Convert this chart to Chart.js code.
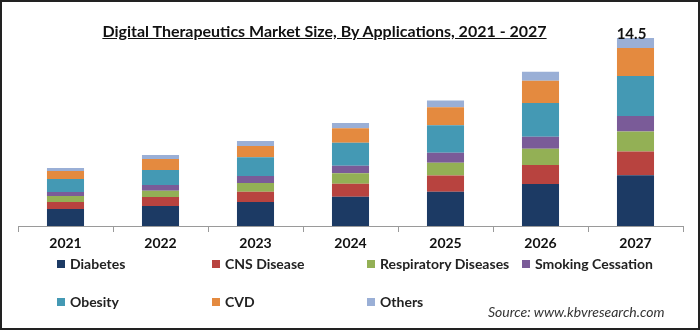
<!DOCTYPE html>
<html lang="en">
<head>
    <meta charset="UTF-8">
    <script src="https://cdn.jsdelivr.net/npm/chart.js"></script>
    <title>Digital Therapeutics Market Size</title>
    <style>
        body { margin: 0; background: #fff; font-family: Lato, "Liberation Sans", sans-serif; }
        .frame { position: absolute; left: 0; top: 0; width: 700px; height: 330px; box-sizing: border-box; border: 2px solid #222; pointer-events: none; }
        .chart { position: absolute; left: 0; top: 0; width: 700px; height: 330px; }
        .titulo { position: absolute; left: 0; width: 649px; top: 21px; text-align: center; font-weight: bold; font-size: 16px; color: #111; }
        .titulo span { text-decoration: underline; }
        .leg { position: absolute; font-size: 14px; font-weight: bold; color: #222; white-space: nowrap; line-height: 16px; }
        .leg i { display: inline-block; width: 8px; height: 8px; margin-right: 5px; vertical-align: 1px; }
        .fonte { position: absolute; left: 488px; top: 303px; font-size: 14px; font-style: italic; color: #333; }
    </style>
</head>
<body>
    <div class="chart"><canvas id="myChart" width="700" height="330"></canvas></div>
    <div class="titulo"><span>Digital Therapeutics Market Size, By Applications, 2021 - 2027</span></div>
    <div id="legenda"></div>
    <div class="fonte">Source: www.kbvresearch.com</div>
    <div class="frame"></div>
<script>
    // dados (USD bilhoes)
    const anos = ['2021', '2022', '2023', '2024', '2025', '2026', '2027'];
    const diabetes = [1.31, 1.54, 1.85, 2.26, 2.64, 3.24, 3.92];
    const cns = [0.54, 0.69, 0.80, 1.00, 1.26, 1.46, 1.82];
    const respiratorias = [0.46, 0.49, 0.67, 0.80, 0.97, 1.26, 1.54];
    const tabagismo = [0.31, 0.44, 0.54, 0.59, 0.77, 0.93, 1.21];
    const obesidade = [1.00, 1.16, 1.44, 1.77, 2.13, 2.60, 3.08];
    const cvd = [0.62, 0.85, 0.87, 1.11, 1.39, 1.72, 2.16];
    const outros = [0.23, 0.31, 0.39, 0.41, 0.51, 0.69, 0.77];
    const rotuloTotal = '14.5';

    const nomes = ['Diabetes', 'CNS Disease', 'Respiratory Diseases', 'Smoking Cessation', 'Obesity', 'CVD', 'Others'];
    const series = [diabetes, cns, respiratorias, tabagismo, obesidade, cvd, outros];
    const cores = ['#1c3a64', '#b8433f', '#93b055', '#7a5b98', '#4499b4', '#e48a3f', '#9aafd6'];

    // legenda em duas linhas, quatro colunas
    const colX = [57, 212, 367, 522];
    const linhaY = [264, 302];
    let html = '';
    for (let i = 0; i < nomes.length; i++) {
        const x = colX[i % 4], y = linhaY[Math.floor(i / 4)] - 8;
        html += `<div class="leg" style="left:${x}px;top:${y}px"><i style="background:${cores[i]}"></i>${nomes[i]}</div>`;
    }
    document.getElementById('legenda').innerHTML = html;

    // rotulo do total acima da ultima barra
    const rotuloPlugin = {
        id: 'rotulo',
        afterDatasetsDraw(chart) {
            const ctx = chart.ctx;
            const ultimo = anos.length - 1;
            const meta = chart.getDatasetMeta(series.length - 1);
            const barra = meta.data[ultimo];
            ctx.save();
            ctx.font = 'bold 15px Lato, sans-serif';
            ctx.fillStyle = '#111';
            ctx.textAlign = 'center';
            ctx.textBaseline = 'bottom';
            ctx.fillText(rotuloTotal, barra.x - 4, barra.y + 4);
            ctx.restore();
        }
    };

    const dados = {
        labels: anos,
        datasets: series.map((s, i) => ({
            label: nomes[i],
            data: s,
            backgroundColor: cores[i],
            borderWidth: 0,
            barPercentage: 0.39,
            categoryPercentage: 1
        }))
    };

    const config = {
        type: 'bar',
        data: dados,
        plugins: [rotuloPlugin],
        options: {
            responsive: false,
            animation: false,
            layout: { padding: { left: 18, right: 17, top: 38, bottom: 70 } },
            plugins: { legend: { display: false }, tooltip: { enabled: false } },
            scales: {
                x: {
                    stacked: true,
                    afterFit(scale) { scale.height = 34; },
                    grid: { display: true, drawOnChartArea: false, drawTicks: true, tickLength: 6, color: '#9a9a9a', offset: true },
                    border: { display: true, color: '#9a9a9a' },
                    ticks: { color: '#111', padding: 3, font: { family: 'Lato', size: 14, weight: 'bold' } }
                },
                y: { stacked: true, display: false, min: 0, max: 14.5 }
            }
        }
    };

    const myChart = new Chart(document.getElementById('myChart'), config);
</script>
</body>
</html>
